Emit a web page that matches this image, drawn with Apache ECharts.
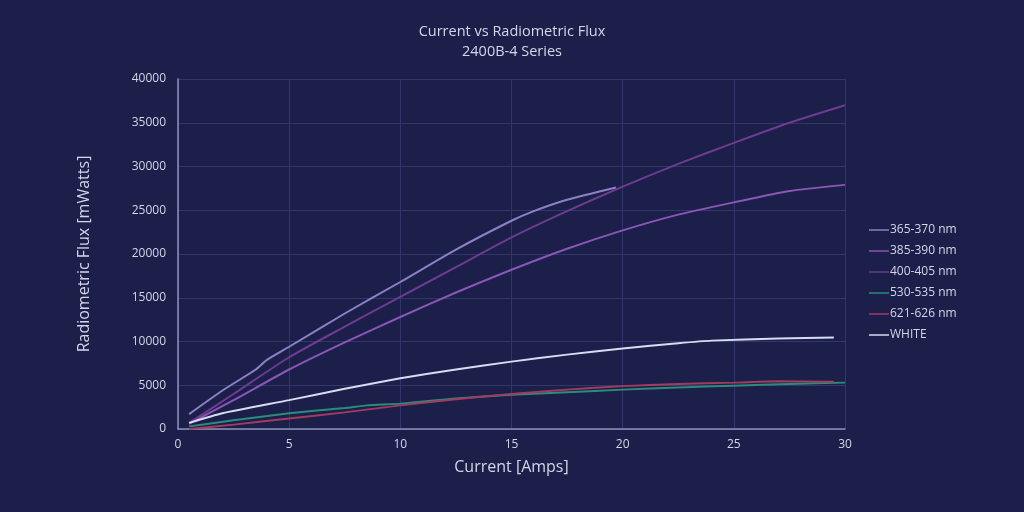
<!DOCTYPE html>
<html>
<head>
<meta charset="utf-8">
<script src="https://cdn.jsdelivr.net/npm/echarts@6/dist/echarts.min.js"></script>
<style>
  html, body { margin: 0; padding: 0; background: #1b1f4a; }
  #main { width: 1024px; height: 512px; }
</style>
</head>
<body>
<div id="main"></div>
<script>
// values: [current (A), flux (mW)]
var uv365 = [[0.5, 1700], [2, 4400], [3.5, 6800], [4, 7900], [5, 9400], [7.5, 13200], [10, 16800],
  [12.5, 20500], [15, 23800], [16, 24900], [17.5, 26200], [19.7, 27600]];
var uv385 = [[0.5, 600], [2.5, 3300], [5, 6800], [7.5, 9900], [10, 12800], [12.5, 15600], [15, 18200],
  [17.5, 20600], [20, 22700], [22.5, 24500], [25, 25900], [27.5, 27200], [30, 27900]];
var uv400 = [[0.5, 700], [2.5, 4000], [5, 8200], [7.5, 11700], [10, 15100], [12.5, 18500], [15, 21900],
  [17.5, 24900], [20, 27700], [22.5, 30300], [25, 32700], [27.5, 35000], [30, 37000]];
var green530 = [[0.5, 300], [2.5, 1000], [5, 1800], [7.5, 2400], [8.5, 2700], [10, 2900], [12.5, 3500],
  [15, 3900], [17.5, 4200], [20, 4500], [22.5, 4750], [25, 4950], [27.5, 5150], [30, 5300]];
var red621 = [[0.5, 0], [2.5, 500], [5, 1200], [7.5, 1900], [10, 2700], [12.5, 3400], [15, 4000],
  [17.5, 4500], [20, 4900], [22.5, 5150], [25, 5300], [27, 5450], [29.5, 5400]];
var white = [[0.5, 700], [2, 1800], [5, 3300], [7.5, 4600], [10, 5800], [12.5, 6800], [15, 7700],
  [17.5, 8500], [20, 9200], [22.5, 9800], [24, 10100], [27, 10350], [29.5, 10450]];

var seriesNames = ['365-370 nm', '385-390 nm', '400-405 nm', '530-535 nm', '621-626 nm', 'WHITE'];
var seriesData = [uv365, uv385, uv400, green530, red621, white];
var seriesColors = ['#8d80c6', '#8b56b6', '#6d3b8f', '#2b8c7c', '#a23c5e', '#d9dcf0'];

var txt = '#d4d6e8';
var font = '"Open Sans", sans-serif';

var chart = echarts.init(document.getElementById('main'));
chart.setOption({
  backgroundColor: '#1b1f4a',
  animation: false,
  title: {
    text: 'Current vs Radiometric Flux\n2400B-4 Series',
    left: 'center',
    top: 17,
    textStyle: { color: txt, fontSize: 14.5, fontWeight: 'normal', fontFamily: font, lineHeight: 20 }
  },
  legend: {
    orient: 'vertical',
    left: 864,
    top: 219,
    itemGap: 9,
    itemWidth: 20,
    itemHeight: 12,
    icon: 'path://M0,7 L20,7 L20,8.5 L0,8.5 Z',
    textStyle: { color: txt, fontSize: 12, fontFamily: font, padding: [0, 0, 0, -4] },
    data: seriesNames
  },
  grid: { left: 178, right: 179, top: 79, bottom: 83 },
  xAxis: {
    type: 'value',
    min: 0, max: 30, interval: 5,
    name: 'Current [Amps]',
    nameLocation: 'middle',
    nameGap: 30,
    nameTextStyle: { color: txt, fontSize: 16, fontFamily: font },
    axisLine: { lineStyle: { color: '#8e92b8', width: 1.5 } },
    axisTick: { show: false },
    axisLabel: { color: txt, fontSize: 12, fontFamily: font, margin: 10 },
    splitLine: { lineStyle: { color: '#31376a', width: 1 } }
  },
  yAxis: {
    type: 'value',
    min: 0, max: 40000, interval: 5000,
    name: 'Radiometric Flux [mWatts]',
    nameLocation: 'middle',
    nameGap: 86,
    nameTextStyle: { color: txt, fontSize: 16, fontFamily: font },
    axisLine: { show: true, lineStyle: { color: '#8e92b8', width: 1.5 } },
    axisTick: { show: false },
    axisLabel: { color: txt, fontSize: 12, fontFamily: font, margin: 12, formatter: function (v) { return String(v); } },
    splitLine: { lineStyle: { color: '#31376a', width: 1 } }
  },
  series: seriesNames.map(function (n, i) {
    return {
      name: n,
      type: 'line',
      data: seriesData[i],
      showSymbol: false,
      smooth: 0.2,
      lineStyle: { color: seriesColors[i], width: 2 },
      itemStyle: { color: seriesColors[i] }
    };
  })
});
</script>
</body>
</html>
